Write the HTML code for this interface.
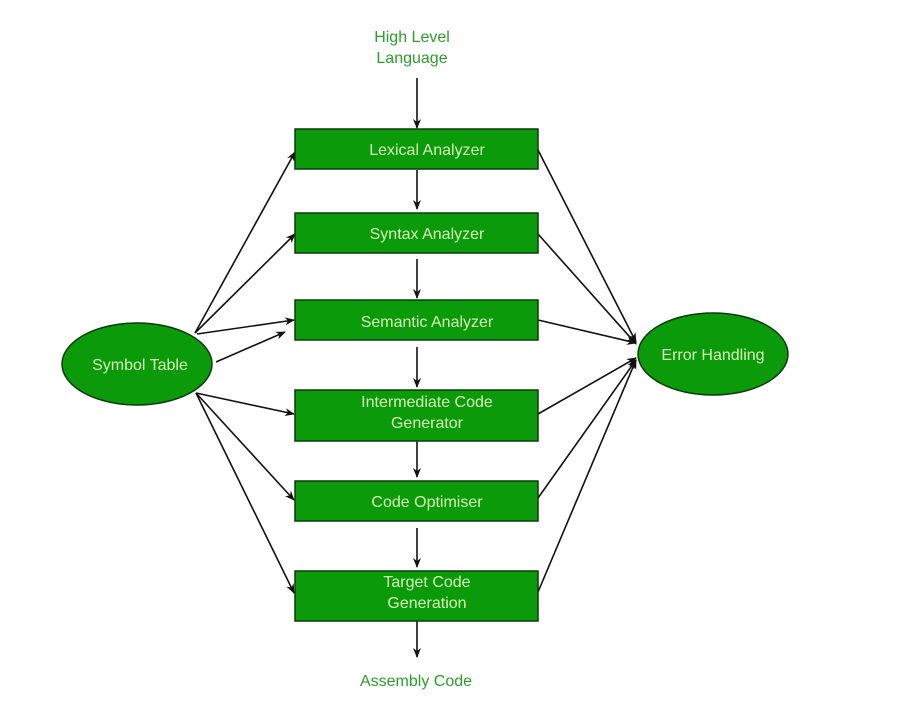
<!DOCTYPE html>
<html><head><meta charset="utf-8"><style>
html,body{margin:0;padding:0;background:#fff;}
svg{display:block;}
text{font-family:"Liberation Sans",Arial,sans-serif;}
</style></head><body>
<svg width="909" height="712" viewBox="0 0 909 712" xmlns="http://www.w3.org/2000/svg">
<defs>
<marker id="a" markerWidth="10" markerHeight="10" refX="9" refY="5" orient="auto" markerUnits="userSpaceOnUse">
<path d="M0,1 L10,5 L0,9 L3,5 Z" fill="#111"/>
</marker>
</defs>
<rect width="909" height="712" fill="#fff"/>
<text x="412" y="42" font-size="16" fill="#2aa02a" text-anchor="middle">High Level</text>
<text x="412" y="63" font-size="16" fill="#2aa02a" text-anchor="middle">Language</text>
<text x="416" y="686" font-size="16" fill="#2aa02a" text-anchor="middle">Assembly Code</text>

<g stroke="#111" stroke-width="1.6" fill="none" marker-end="url(#a)">
<line x1="417" y1="78" x2="417" y2="128"/>
<line x1="417" y1="170" x2="417" y2="209"/>
<line x1="417" y1="259" x2="417" y2="298"/>
<line x1="417" y1="347" x2="417" y2="387"/>
<line x1="417" y1="441" x2="417" y2="477"/>
<line x1="417" y1="528" x2="417" y2="567"/>
<line x1="417" y1="621" x2="417" y2="657"/>
<!-- symbol table -->
<line x1="195" y1="333" x2="295" y2="152"/>
<line x1="195" y1="333" x2="295" y2="234"/>
<line x1="197" y1="334" x2="294" y2="320"/>
<line x1="216" y1="362" x2="285" y2="332"/>
<line x1="196" y1="393" x2="294" y2="414"/>
<line x1="196" y1="393" x2="294" y2="500"/>
<line x1="196" y1="393" x2="294" y2="593"/>
<!-- error -->
<line x1="538" y1="150" x2="636" y2="342"/>
<line x1="538" y1="234" x2="636" y2="344"/>
<line x1="538" y1="320" x2="636" y2="343"/>
<line x1="538" y1="414" x2="636" y2="358"/>
<line x1="538" y1="498" x2="636" y2="360"/>
<line x1="538" y1="592" x2="636" y2="360"/>
</g>

<g fill="#0a9a0a" stroke="#0c3a0c" stroke-width="1.5">
<rect x="295" y="129" width="243" height="40"/>
<rect x="295" y="213" width="243" height="40"/>
<rect x="295" y="300" width="243" height="40"/>
<rect x="295" y="390" width="243" height="51"/>
<rect x="295" y="481" width="243" height="40"/>
<rect x="295" y="571" width="243" height="50"/>
<ellipse cx="137" cy="364" rx="75" ry="41"/>
<ellipse cx="713" cy="354" rx="75" ry="41"/>
</g>

<g fill="#d8f5b8" font-size="16" text-anchor="middle">
<text x="427" y="155">Lexical Analyzer</text>
<text x="427" y="239">Syntax Analyzer</text>
<text x="427" y="327">Semantic Analyzer</text>
<text x="427" y="407">Intermediate Code</text>
<text x="427" y="428">Generator</text>
<text x="427" y="507">Code Optimiser</text>
<text x="427" y="587">Target Code</text>
<text x="427" y="608">Generation</text>
<text x="140" y="370">Symbol Table</text>
<text x="713" y="360">Error Handling</text>
</g>
</svg>
</body></html>
